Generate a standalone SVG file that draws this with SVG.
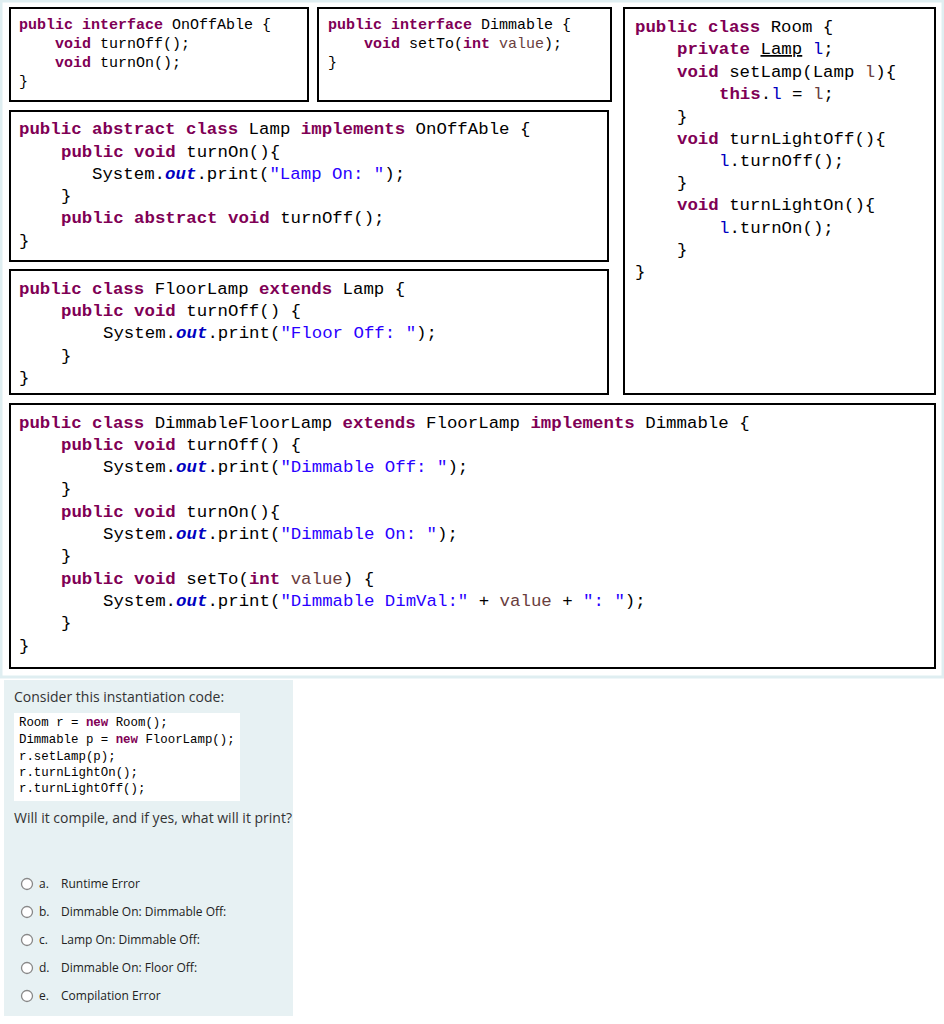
<svg xmlns="http://www.w3.org/2000/svg" width="944" height="1024" viewBox="0 0 944 1024">
<style>
text{white-space:pre}
.m{font-family:"Liberation Mono","DejaVu Sans Mono",monospace;fill:#000}
.b{font-size:17.4px}
.s{font-size:15px}
.x{font-size:12.4px}
.k{fill:#7f0055;font-weight:bold}
.st{fill:#2a00ff}
.o{fill:#0000c0;font-weight:bold;font-style:italic}
.f{fill:#0000c0}
.p{fill:#6a3e3e}
.box{fill:#fff;stroke:#000;stroke-width:2}
.t{font-family:"Open Sans","Liberation Sans",sans-serif;fill:#333}
.opt{font-family:"Open Sans","Liberation Sans",sans-serif;font-size:12px;fill:#222}
</style>
<rect x="0" y="0" width="944" height="1024" fill="#fff"/>
<rect x="1" y="1" width="942" height="676" fill="#fff" stroke="#dfeef1" stroke-width="3"/>

<g id="onoffable">
<rect class="box" x="10" y="8" width="298" height="93"/>
<text class="m s" x="19" y="29"><tspan class="k">public interface</tspan> OnOffAble {</text>
<text class="m s" x="55" y="48"><tspan class="k">void</tspan> turnOff();</text>
<text class="m s" x="55" y="67"><tspan class="k">void</tspan> turnOn();</text>
<text class="m s" x="19" y="86">}</text>
</g>

<g id="dimmable">
<rect class="box" x="318" y="8" width="293" height="93"/>
<text class="m s" x="328" y="29"><tspan class="k">public interface</tspan> Dimmable {</text>
<text class="m s" x="364" y="48"><tspan class="k">void</tspan> setTo(<tspan class="k">int</tspan> <tspan class="p">value</tspan>);</text>
<text class="m s" x="328" y="67">}</text>
</g>

<g id="lamp">
<rect class="box" x="10" y="111" width="598" height="150"/>
<text class="m b" x="19" y="134"><tspan class="k">public abstract class</tspan> Lamp <tspan class="k">implements</tspan> OnOffAble {</text>
<text class="m b" x="61" y="157"><tspan class="k">public void</tspan> turnOn(){</text>
<text class="m b" x="92" y="179">System.<tspan class="o">out</tspan>.print(<tspan class="st">"Lamp On: "</tspan>);</text>
<text class="m b" x="61" y="201">}</text>
<text class="m b" x="61" y="223"><tspan class="k">public abstract void</tspan> turnOff();</text>
<text class="m b" x="19" y="246">}</text>
</g>

<g id="floorlamp">
<rect class="box" x="10" y="270" width="598" height="124"/>
<text class="m b" x="19" y="294"><tspan class="k">public class</tspan> FloorLamp <tspan class="k">extends</tspan> Lamp {</text>
<text class="m b" x="61" y="316"><tspan class="k">public void</tspan> turnOff() {</text>
<text class="m b" x="103" y="338">System.<tspan class="o">out</tspan>.print(<tspan class="st">"Floor Off: "</tspan>);</text>
<text class="m b" x="61" y="361">}</text>
<text class="m b" x="19" y="383">}</text>
</g>

<g id="room">
<rect class="box" x="624" y="8" width="311" height="386"/>
<text class="m b" x="635" y="32"><tspan class="k">public class</tspan> Room {</text>
<text class="m b" x="677" y="54"><tspan class="k">private</tspan> <tspan text-decoration="underline">Lamp</tspan> <tspan class="f">l</tspan>;</text>
<text class="m b" x="677" y="77"><tspan class="k">void</tspan> setLamp(Lamp <tspan class="p">l</tspan>){</text>
<text class="m b" x="719" y="99"><tspan class="k">this</tspan>.<tspan class="f">l</tspan> = <tspan class="p">l</tspan>;</text>
<text class="m b" x="677" y="122">}</text>
<text class="m b" x="677" y="144"><tspan class="k">void</tspan> turnLightOff(){</text>
<text class="m b" x="719" y="166"><tspan class="f">l</tspan>.turnOff();</text>
<text class="m b" x="677" y="188">}</text>
<text class="m b" x="677" y="210"><tspan class="k">void</tspan> turnLightOn(){</text>
<text class="m b" x="719" y="233"><tspan class="f">l</tspan>.turnOn();</text>
<text class="m b" x="677" y="255">}</text>
<text class="m b" x="635" y="277">}</text>
</g>

<g id="dimmablefloorlamp">
<rect class="box" x="10" y="404" width="925" height="264"/>
<text class="m b" x="19" y="428"><tspan class="k">public class</tspan> DimmableFloorLamp <tspan class="k">extends</tspan> FloorLamp <tspan class="k">implements</tspan> Dimmable {</text>
<text class="m b" x="61" y="450"><tspan class="k">public void</tspan> turnOff() {</text>
<text class="m b" x="103" y="472">System.<tspan class="o">out</tspan>.print(<tspan class="st">"Dimmable Off: "</tspan>);</text>
<text class="m b" x="61" y="494">}</text>
<text class="m b" x="61" y="517"><tspan class="k">public void</tspan> turnOn(){</text>
<text class="m b" x="103" y="539">System.<tspan class="o">out</tspan>.print(<tspan class="st">"Dimmable On: "</tspan>);</text>
<text class="m b" x="61" y="561">}</text>
<text class="m b" x="61" y="584"><tspan class="k">public void</tspan> setTo(<tspan class="k">int</tspan> <tspan class="p">value</tspan>) {</text>
<text class="m b" x="103" y="606">System.<tspan class="o">out</tspan>.print(<tspan class="st">"Dimmable DimVal:"</tspan> + <tspan class="p">value</tspan> + <tspan class="st">": "</tspan>);</text>
<text class="m b" x="61" y="628">}</text>
<text class="m b" x="19" y="651">}</text>
</g>

<g id="question">
<rect x="4" y="680" width="289" height="336" fill="#e7f1f3"/>
<text class="t" x="14" y="702" font-size="14">Consider this instantiation code:</text>
<rect x="14" y="713" width="226" height="88" fill="#fff"/>
<text class="m x" x="19" y="726">Room r = <tspan class="k">new</tspan> Room();</text>
<text class="m x" x="19" y="743">Dimmable p = <tspan class="k">new</tspan> FloorLamp();</text>
<text class="m x" x="19" y="760">r.setLamp(p);</text>
<text class="m x" x="19" y="776">r.turnLightOn();</text>
<text class="m x" x="19" y="792">r.turnLightOff();</text>
<text class="t" x="14" y="823" font-size="14">Will it compile, and if yes, what will it print?</text>
<g fill="#fff" stroke="#888" stroke-width="1.3">
<circle cx="27" cy="884" r="5.5"/>
<circle cx="27" cy="912" r="5.5"/>
<circle cx="27" cy="940" r="5.5"/>
<circle cx="27" cy="968" r="5.5"/>
<circle cx="27" cy="996" r="5.5"/>
</g>
<text class="opt" x="39" y="888">a.</text><text class="opt" x="61" y="888">Runtime Error</text>
<text class="opt" x="39" y="916">b.</text><text class="opt" x="61" y="916">Dimmable On: Dimmable Off:</text>
<text class="opt" x="39" y="944">c.</text><text class="opt" x="61" y="944">Lamp On: Dimmable Off:</text>
<text class="opt" x="39" y="972">d.</text><text class="opt" x="61" y="972">Dimmable On: Floor Off:</text>
<text class="opt" x="39" y="1000">e.</text><text class="opt" x="61" y="1000">Compilation Error</text>
</g>
</svg>
